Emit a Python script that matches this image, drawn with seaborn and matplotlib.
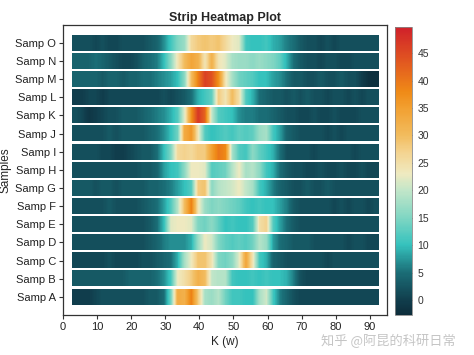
import numpy as np
import matplotlib
matplotlib.use("Agg")
import matplotlib.pyplot as plt
from matplotlib.colors import LinearSegmentedColormap
import seaborn as sns

# ---------------- data ----------------
samples = ["Samp A", "Samp B", "Samp C", "Samp D", "Samp E", "Samp F", "Samp G",
           "Samp H", "Samp I", "Samp J", "Samp K", "Samp L", "Samp M", "Samp N", "Samp O"]
k_values = list(range(3, 92, 2))  # column centres, K (w)

samp_a = [0, 0, 0, 1, 2, 2, 2, 2, 2, 2, 2, 3, 3, 5, 14, 33, 32, 39, 28, 18, 17, 19, 14, 11, 11,
          10, 10, 18, 21, 11, 6, 4, 2, 1, 1, 1, 1, 1, 1, 1, 1, 1, 1, 1, 1]
samp_b = [3, 3, 3, 3, 3, 3, 3, 3, 4, 4, 4, 4, 5, 7, 11, 23, 25, 28, 32, 30, 20, 19, 19, 11, 10,
          10, 11, 10, 11, 10, 10, 9, 6, 2, 1, 1, 1, 1, 1, 1, 1, 1, 1, 1, 1]
samp_c = [1, 1, 1, 1, 1, 2, 1, 1, 1, 1, 2, 2, 3, 4, 5, 9, 18, 23, 29, 29, 24, 15, 14, 16, 22,
          34, 24, 11, 9, 4, 3, 2, 2, 2, 2, 2, 2, 1, 2, 2, 2, 2, 2, 2, 2]
samp_d = [2, 2, 2, 2, 2, 2, 2, 2, 2, 2, 2, 3, 4, 6, 7, 7, 7, 9, 17, 23, 21, 15, 13, 12, 13,
          12, 14, 19, 17, 8, 5, 4, 3, 3, 3, 2, 2, 2, 2, 2, 1, 2, 2, 1, 1]
samp_e = [2, 2, 2, 2, 2, 2, 2, 2, 2, 2, 2, 3, 5, 10, 22, 23, 23, 22, 15, 14, 16, 13, 10, 11, 10,
          10, 12, 25, 27, 12, 8, 5, 3, 2, 2, 2, 2, 2, 2, 2, 2, 2, 2, 2, 2]
samp_f = [2, 2, 2, 2, 2, 3, 2, 2, 2, 2, 3, 4, 5, 8, 12, 19, 30, 39, 24, 17, 15, 16, 15, 14, 13,
          11, 10, 11, 10, 10, 8, 6, 3, 2, 2, 2, 2, 2, 1, 2, 1, 2, 2, 1, 2]
samp_g = [3, 3, 3, 2, 3, 3, 2, 3, 3, 3, 3, 4, 4, 5, 6, 8, 10, 12, 28, 29, 16, 19, 20, 21, 23,
          20, 18, 11, 9, 6, 4, 3, 2, 2, 3, 2, 2, 3, 2, 2, 2, 2, 2, 2, 2]
samp_h = [2, 2, 2, 2, 2, 2, 2, 2, 2, 2, 3, 3, 4, 8, 10, 11, 16, 23, 23, 22, 12, 13, 14, 19, 23,
          18, 19, 16, 11, 9, 5, 3, 2, 2, 1, 1, 2, 1, 1, 2, 1, 1, 2, 1, 1]
samp_i = [2, 2, 2, 2, 1, 1, 0, 0, 1, 2, 3, 3, 5, 10, 15, 26, 27, 26, 28, 28, 35, 40, 38, 18, 12,
          11, 16, 13, 11, 9, 5, 2, 2, 2, 2, 1, 2, 2, 2, 2, 2, 1, 2, 2, 2]
samp_j = [2, 2, 2, 2, 2, 3, 2, 3, 3, 3, 3, 4, 5, 7, 10, 14, 33, 36, 24, 12, 10, 11, 12, 11, 13,
          12, 13, 17, 18, 11, 8, 4, 3, 2, 2, 2, 2, 1, 2, 1, 2, 2, 2, 2, 2]
samp_k = [2, 1, -1, 0, 1, 2, 2, 3, 3, 3, 4, 5, 6, 7, 9, 12, 22, 37, 47, 42, 20, 12, 11, 10, 7,
          6, 6, 5, 5, 4, 3, 2, 2, 1, 1, 2, 1, 1, 2, 1, 1, 1, 2, 2, 2]
samp_l = [0, 0, 1, 1, 0, 1, 1, 1, 1, 1, 1, 1, 1, 2, 1, 2, 3, 5, 9, 11, 13, 28, 24, 30, 25,
          12, 9, 5, 4, 3, 3, 2, 3, 2, 3, 2, 2, 1, 2, 2, 1, 2, 1, 2, 2]
samp_m = [4, 4, 4, 4, 3, 4, 4, 3, 4, 4, 5, 5, 6, 7, 8, 10, 16, 30, 39, 46, 44, 37, 24, 18, 14,
          13, 12, 10, 10, 8, 7, 5, 3, 3, 2, 2, 3, 2, 2, 3, 2, 2, 0, -2, -2]
samp_n = [4, 4, 4, 5, 4, 3, 2, 1, 1, 2, 4, 5, 6, 10, 16, 24, 30, 34, 32, 24, 32, 24, 22, 18, 17,
          17, 16, 17, 16, 15, 13, 9, 5, 3, 2, 2, 1, 2, 2, 1, 1, 2, 2, 2, 2]
samp_o = [2, 2, 2, 1, 2, 1, 1, 2, 2, 2, 2, 3, 4, 7, 11, 15, 17, 26, 28, 29, 28, 29, 26, 23, 22,
          11, 10, 10, 11, 9, 8, 6, 5, 3, 2, 2, 1, 2, 1, 2, 2, 2, 2, 2, 2]

rows = [samp_a, samp_b, samp_c, samp_d, samp_e, samp_f, samp_g, samp_h,
        samp_i, samp_j, samp_k, samp_l, samp_m, samp_n, samp_o]
x_ticks = [0, 10, 20, 30, 40, 50, 60, 70, 80, 90]
cbar_ticks = [0, 5, 10, 15, 20, 25, 30, 35, 40, 45]

# ---------------- style ----------------
sns.set_theme(style="ticks")
plt.rcParams["font.family"] = ["Liberation Sans", "DejaVu Sans"]

vmin, vmax = -2.7, 49.7
stops = [(-2.7, "#0d2d3b"), (0, "#113e4d"), (5, "#1b6e77"), (10, "#35c2bd"),
         (15, "#80d6c3"), (20, "#c2e6c9"), (23, "#efeac0"), (27, "#f4d38f"),
         (30, "#f2bc5e"), (35, "#f2a031"), (38, "#ef8a17"), (43, "#e35c1f"),
         (49.7, "#d0212a")]
cmap = LinearSegmentedColormap.from_list(
    "strip", [((v - vmin) / (vmax - vmin), c) for v, c in stops])

fig = plt.figure(figsize=(4.74, 3.55), dpi=100)
ax = fig.add_axes([0.133, 0.113, 0.683, 0.817])
cax = fig.add_axes([0.834, 0.113, 0.035, 0.81])

half_w = (k_values[1] - k_values[0]) / 2
x0, x1 = k_values[0] - half_w + 0.5, k_values[-1] + half_w + 0.5
h = 0.43
im = None
for i, r in enumerate(rows):
    y = i + 1
    im = ax.imshow(np.array([r], dtype=float), cmap=cmap, vmin=vmin, vmax=vmax,
                   extent=[x0, x1, y - h, y + h], aspect="auto",
                   interpolation="bilinear", origin="lower")

ax.set_xlim(0, 95)
ax.set_ylim(0, 16)
ax.set_xticks(x_ticks)
ax.set_yticks(range(1, len(samples) + 1))
ax.set_yticklabels(samples)
ax.tick_params(axis="both", labelsize=8, length=3, width=0.8, color="#333333",
               labelcolor="#222222", pad=2)
for s in ax.spines.values():
    s.set_color("#333333")
    s.set_linewidth(0.9)
ax.set_xlabel("K (w)", fontsize=8.5, labelpad=3)
ax.set_ylabel("Samples", fontsize=8.5, labelpad=2)
ax.set_title("Strip Heatmap Plot", fontsize=9, fontweight="bold", pad=3)

cb = fig.colorbar(im, cax=cax)
cb.set_ticks(cbar_ticks)
cb.ax.tick_params(labelsize=7.5, direction="in", length=3, width=0.6,
                  color="#333333", labelcolor="#333333", pad=4)
cb.outline.set_edgecolor("#888888")
cb.outline.set_linewidth(0.6)

fig.text(0.678, 0.040, "知乎 @阿昆的科研日常", fontsize=9.5, color="#bbbbbb", alpha=0.85,
         family=["Noto Sans CJK SC", "DejaVu Sans"], va="center", ha="left")

fig.savefig("out.png", dpi=100)
